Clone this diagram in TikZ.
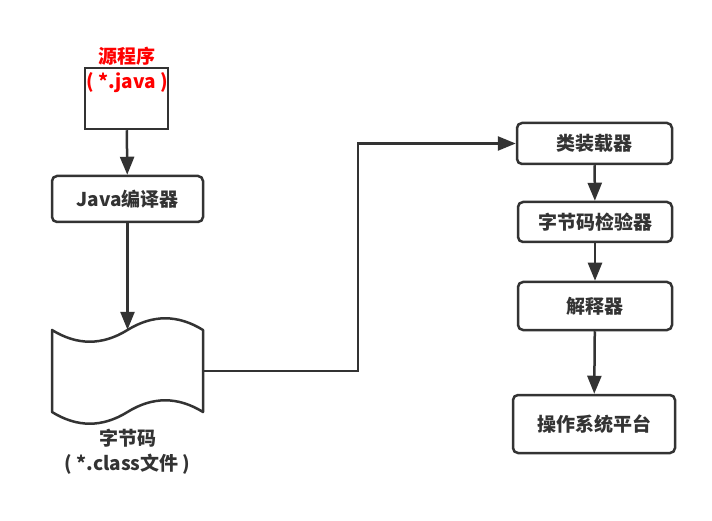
\documentclass[tikz,border=0pt]{standalone}
\usepackage{fontspec}
\setmainfont{Noto Sans CJK SC}
\usetikzlibrary{arrows.meta,calc}
\definecolor{ink}{HTML}{333333}

\begin{document}
\begin{tikzpicture}[
  x=1pt, y=-1pt,
  >={Triangle[length=18pt,width=14pt]},
  font=\fontsize{19}{25}\selectfont\bfseries,
  line/.style={draw=ink, line width=2.5pt},
  stepbox/.style={line, text=ink, rounded corners=5pt, inner sep=0pt},
  caption/.style={text=ink, align=center, inner sep=0pt}
]
\useasboundingbox (0,0) rectangle (712,521);

% ----- kolom kiri: sumber, kompiler, bytecode -----
\node[line, minimum width=83pt, minimum height=61pt, inner sep=0pt] (src) at (126.5,98.5) {};
\node[caption, text=red] (srclabel) at (127,70) {源程序\\( *.java )};
\node[stepbox, minimum width=151pt, minimum height=46pt] (compiler) at (127.5,199) {Java编译器};

% bytecode: bentuk pita bergelombang
\node[minimum width=151pt, minimum height=108pt, inner sep=0pt] (bc) at (127.5,371) {};
\draw[line, line join=round, shift={(bc.center)}]
  (-75.5,-41) .. controls (-50.33,-25.4) and (-25.17,-25.4) .. (0,-41)
              .. controls (25.17,-56.6) and (50.33,-56.6) .. (75.5,-41)
  -- (75.5,41) .. controls (50.33,25.4) and (25.17,25.4) .. (0,41)
               .. controls (-25.17,56.6) and (-50.33,56.6) .. (-75.5,41)
  -- cycle;
\coordinate (bcin) at ($(bc.north)+(0,13)$);
\node[caption] (bclabel) at (127.5,452) {字节码\\( *.class文件 )};

% ----- kolom kanan: JVM -----
\node[stepbox, minimum width=155pt, minimum height=41pt] (loader) at (594.5,143.5) {类装载器};
\node[stepbox, minimum width=154pt, minimum height=40pt] (verifier) at (595,222) {字节码检验器};
\node[stepbox, minimum width=154pt, minimum height=48pt] (interp) at (595,306) {解释器};
\node[stepbox, minimum width=162pt, minimum height=58pt] (platform) at (594,424) {操作系统平台};
\coordinate (turn) at (358,143.5);

% ----- panah -----
\draw[line, ->] (src) -- (compiler);
\draw[line, ->] (compiler) -- (bcin);
\draw[line, ->] (bc.east) -| (turn) -- (loader);
\draw[line, ->] (loader) -- (verifier);
\draw[line, ->] (verifier) -- (interp);
\draw[line, ->] (interp) -- (platform);
\end{tikzpicture}
\end{document}
